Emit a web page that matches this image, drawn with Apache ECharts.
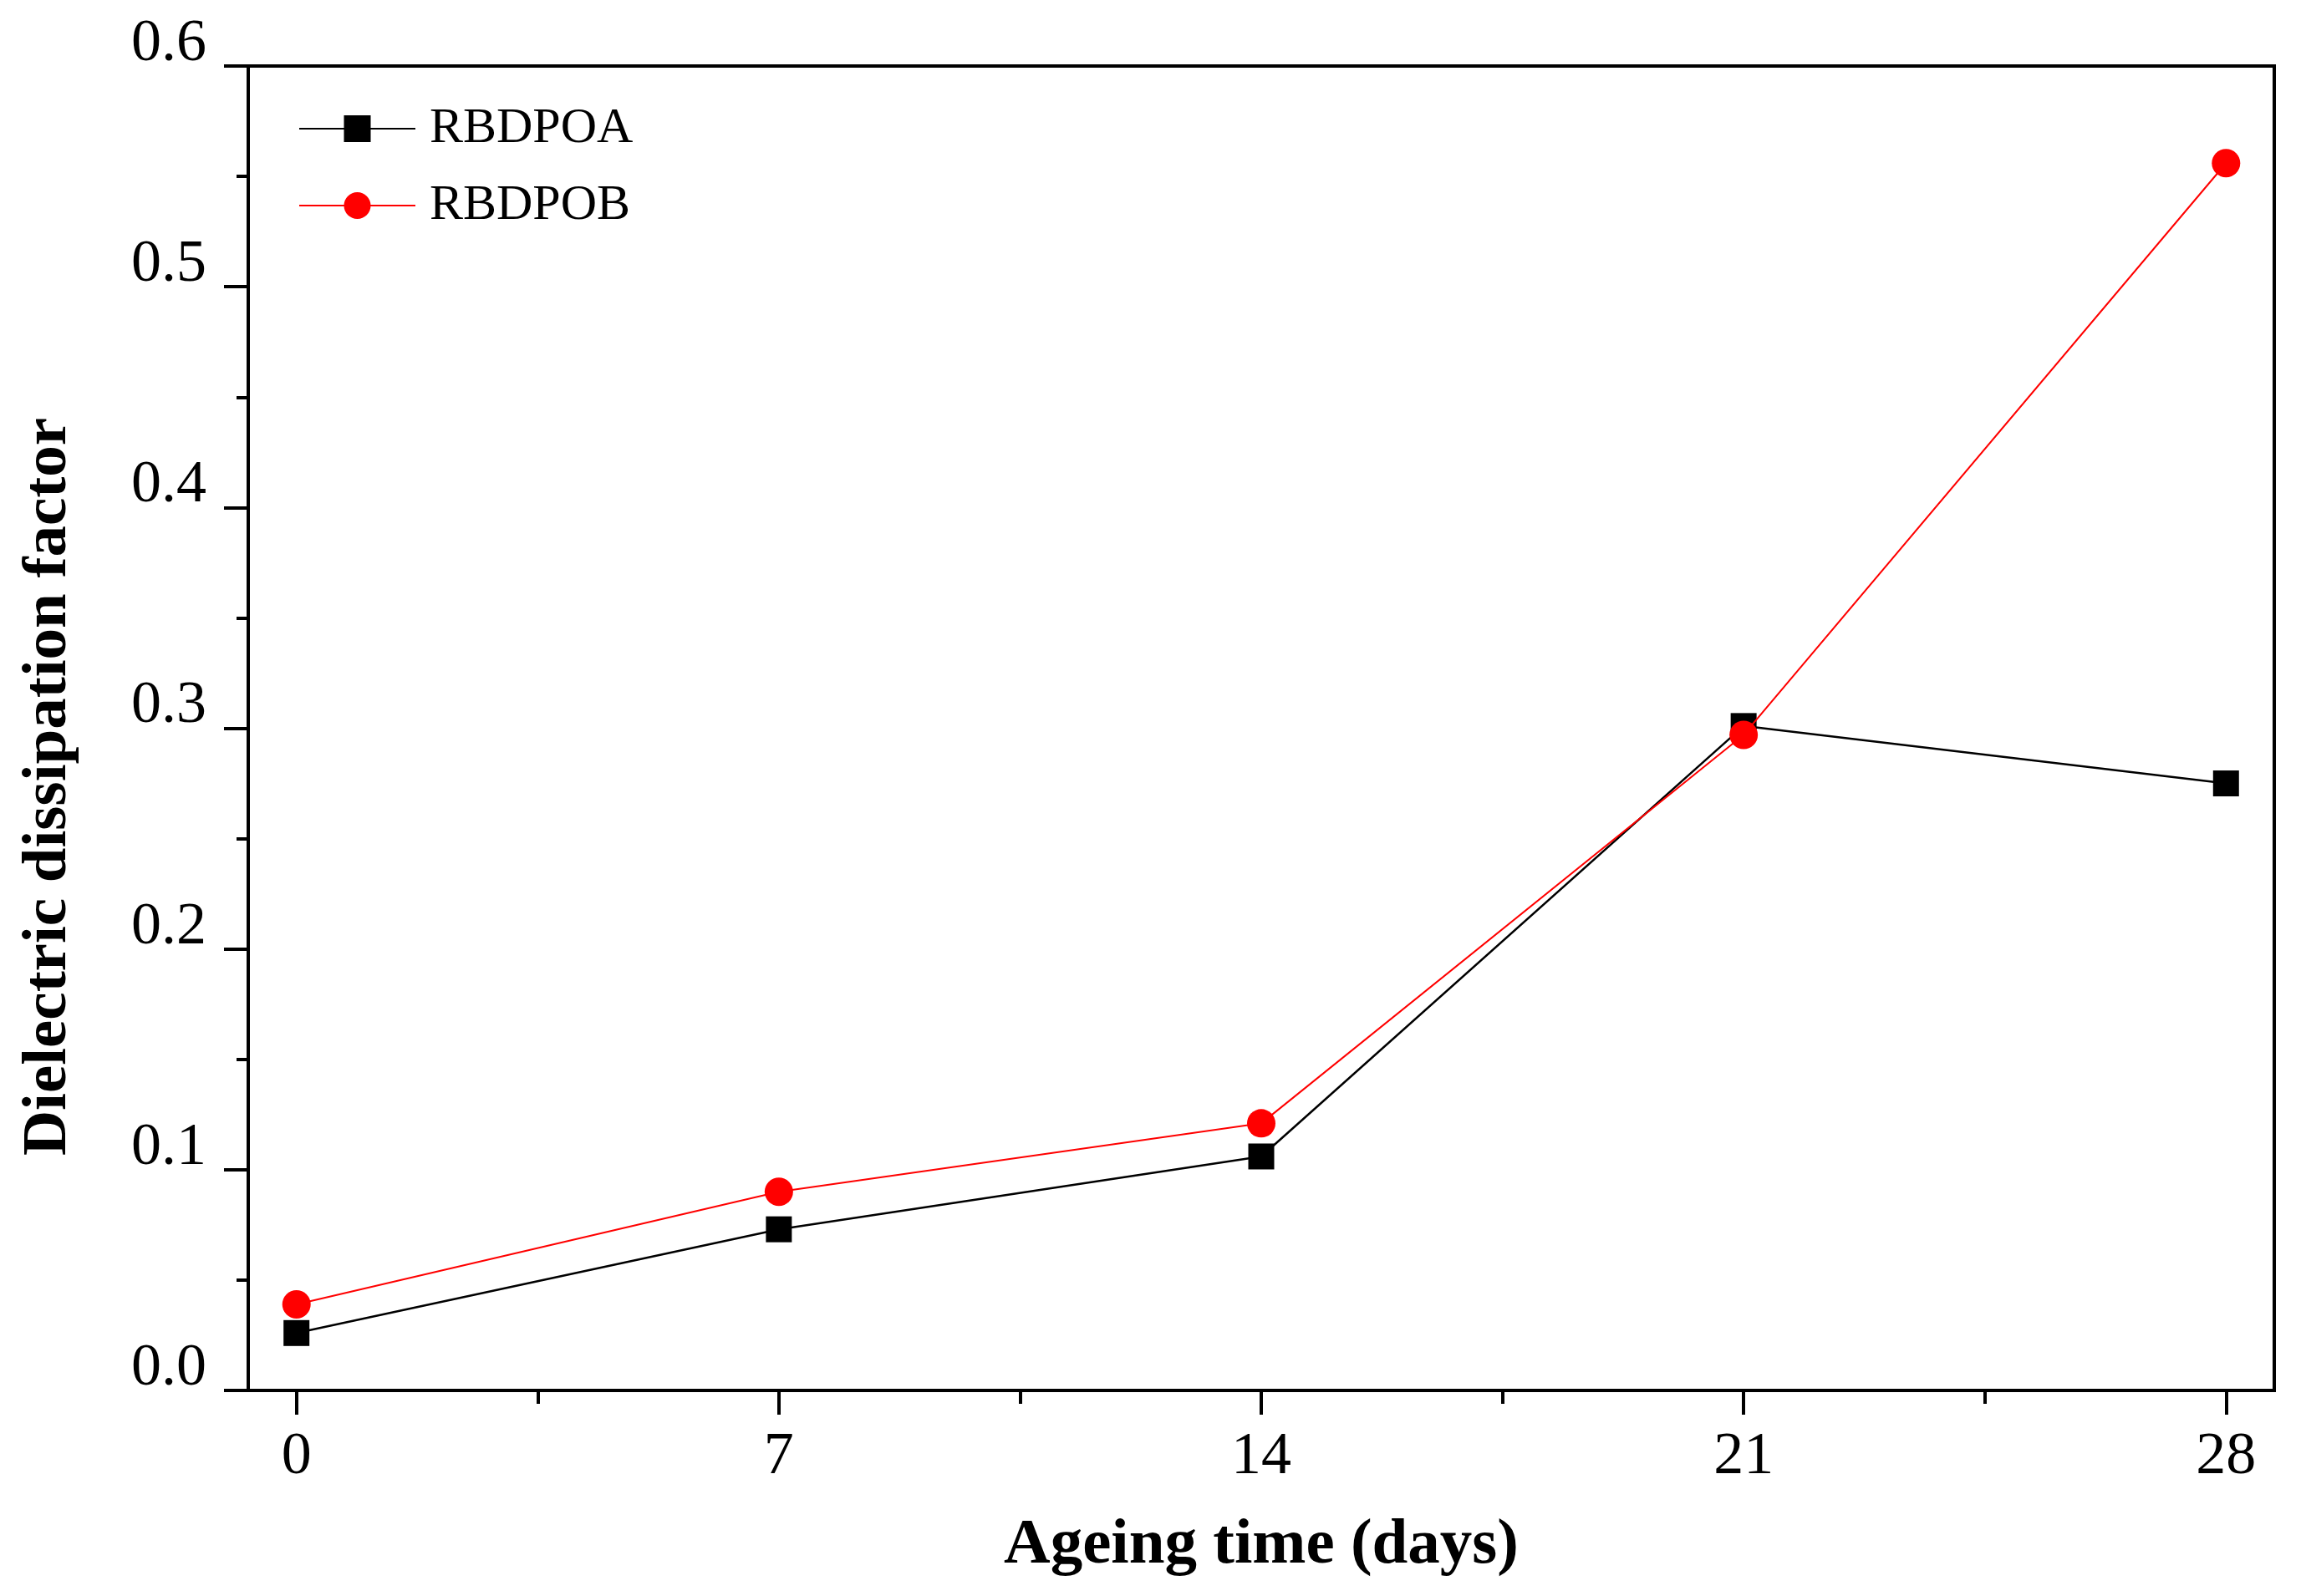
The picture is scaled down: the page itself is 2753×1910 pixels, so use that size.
<!DOCTYPE html>
<html>
<head>
<meta charset="utf-8">
<script src="https://cdn.jsdelivr.net/npm/echarts@6/dist/echarts.min.js"></script>
<style>
html,body{margin:0;padding:0;background:#fff;}
#chart{width:2753px;height:1910px;}
</style>
</head>
<body>
<div id="chart"></div>
<script>
var days = [0, 7, 14, 21, 28];
var rbdpoA = [0.026, 0.073, 0.106, 0.301, 0.275];
var rbdpoB = [0.039, 0.090, 0.121, 0.297, 0.556];
var xMajorTicks = [0, 7, 14, 21, 28];
var xMinorTicks = [3.5, 10.5, 17.5, 24.5];
var seriesNames = ['RBDPOA', 'RBDPOB'];

var FONT = 'Liberation Serif';
function pairs(xs, ys){ return xs.map(function(x,i){ return [x, ys[i]]; }); }

var chart = echarts.init(document.getElementById('chart'), null, {renderer:'canvas'});
chart.setOption({
  animation: false,
  backgroundColor: '#ffffff',
  grid: {left: 297, right: 32, top: 79, bottom: 246, show: true, borderColor: '#000', borderWidth: 4, backgroundColor: 'transparent'},
  legend: {
    orient: 'vertical', left: 357, top: 124,
    itemWidth: 139, itemHeight: 40, itemGap: 32,
    padding: 0,
    textStyle: {fontFamily: FONT, fontSize: 60, color: '#000', padding: [0,0,0,12]},
    data: seriesNames
  },
  xAxis: [{
    type: 'value', min: -0.7, max: 28.7, position: 'bottom',
    name: 'Ageing time (days)', nameLocation: 'middle', nameGap: 148,
    nameTextStyle: {fontFamily: FONT, fontSize: 77, fontWeight: 'bold', color: '#000', lineHeight: 77},
    axisLine: {show: true, onZero: false, lineStyle: {color: '#000', width: 4}},
    axisTick: {show: true, inside: false, length: 29, lineStyle: {color: '#000', width: 4}, customValues: xMajorTicks},
    axisLabel: {show: true, customValues: xMajorTicks, fontFamily: FONT, fontSize: 72, color: '#000', margin: 44, verticalAlign: 'top', lineHeight: 72},
    splitLine: {show: false}
  }, {
    type: 'value', min: -0.7, max: 28.7, position: 'bottom', gridIndex: 0,
    axisLine: {show: false},
    axisTick: {show: true, inside: false, length: 16, lineStyle: {color: '#000', width: 4}, customValues: xMinorTicks},
    axisLabel: {show: false},
    splitLine: {show: false}
  }],
  yAxis: {
    type: 'value', min: 0, max: 0.6, interval: 0.1,
    name: 'Dielectric dissipation factor', nameLocation: 'middle', nameGap: 201, nameRotate: 90,
    nameTextStyle: {fontFamily: FONT, fontSize: 75, fontWeight: 'bold', color: '#000', lineHeight: 75, padding: [0, 140, 0, 0]},
    axisLine: {show: true, onZero: false, lineStyle: {color: '#000', width: 4}},
    axisTick: {show: true, inside: false, length: 29, lineStyle: {color: '#000', width: 4}},
    minorTick: {show: true, splitNumber: 2, length: 14, lineStyle: {color: '#000', width: 4}},
    axisLabel: {fontFamily: FONT, fontSize: 72, color: '#000', margin: 50, verticalAlign: 'bottom', lineHeight: 52,
      formatter: function(v){ return v.toFixed(1); }},
    splitLine: {show: false}
  },
  series: [{
    name: seriesNames[0], type: 'line', xAxisIndex: 0,
    data: pairs(days, rbdpoA),
    symbol: 'rect', symbolSize: 31,
    itemStyle: {color: '#000'},
    lineStyle: {color: '#000', width: 2.5},
    z: 2
  }, {
    name: seriesNames[1], type: 'line', xAxisIndex: 0,
    data: pairs(days, rbdpoB),
    symbol: 'circle', symbolSize: 34,
    itemStyle: {color: '#ff0000'},
    lineStyle: {color: '#ff0000', width: 2},
    z: 3
  }]
});
</script>
</body>
</html>
